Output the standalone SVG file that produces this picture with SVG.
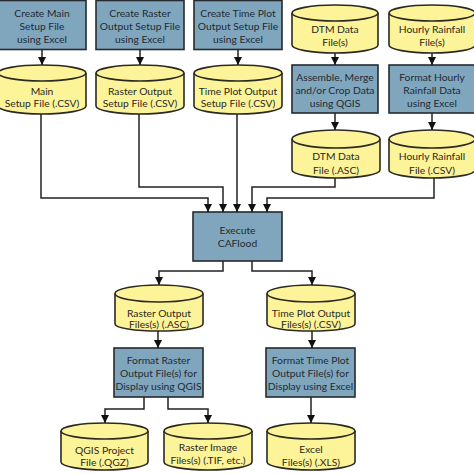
<svg xmlns="http://www.w3.org/2000/svg" width="474" height="474" viewBox="0 0 474 474">
<style>
.box{fill:#7fa6bd;stroke:#262a2e;stroke-width:1.6}
.cyl{fill:#fdf398;stroke:#2a2a22;stroke-width:1.6}
.cyl2{fill:none;stroke:#2a2a22;stroke-width:1.6}
text{font-family:Lato,"Liberation Sans",sans-serif;font-size:10.3px;text-anchor:middle;fill:#1f2a33}
.c text{fill:#2a2a1c}
.con{fill:none;stroke:#222;stroke-width:1.5}
</style>
<defs>
<marker id="ah" viewBox="0 0 10 10" refX="10" refY="5" markerWidth="5.3" markerHeight="5.3" orient="auto" markerUnits="strokeWidth">
<path d="M0,0 L10,5 L0,10 Z" fill="#111"/>
</marker>
</defs>
<rect width="474" height="474" fill="#fff"/>

<g id="create-main"><rect class="box" x="-2" y="0.5" width="88" height="49"/><text x="42" y="17">Create Main</text><text x="42" y="30">Setup File</text><text x="42" y="43">using Excel</text></g>
<g id="create-raster"><rect class="box" x="96" y="0.5" width="88" height="49"/><text x="140" y="17">Create Raster</text><text x="140" y="30">Output Setup File</text><text x="140" y="43">using Excel</text></g>
<g id="create-time"><rect class="box" x="194" y="0.5" width="88" height="49"/><text x="238" y="17">Create Time Plot</text><text x="238" y="30">Output Setup File</text><text x="238" y="43">using Excel</text></g>

<g id="main-setup" class="c"><path class="cyl" d="M-2,73 A44,8 0 0 1 86,73 V106 A44,8 0 0 1 -2,106 Z"/><path class="cyl2" d="M-2,73 A44,8 0 0 0 86,73"/><text x="42" y="94.5">Main</text><text x="42" y="106.5">Setup File (.CSV)</text></g>
<g id="raster-setup" class="c"><path class="cyl" d="M96,73 A44,8 0 0 1 184,73 V106 A44,8 0 0 1 96,106 Z"/><path class="cyl2" d="M96,73 A44,8 0 0 0 184,73"/><text x="140" y="94.5">Raster Output</text><text x="140" y="106.5">Setup File (.CSV)</text></g>
<g id="time-setup" class="c"><path class="cyl" d="M194,73 A44,8 0 0 1 282,73 V106 A44,8 0 0 1 194,106 Z"/><path class="cyl2" d="M194,73 A44,8 0 0 0 282,73"/><text x="238" y="94.5">Time Plot Output</text><text x="238" y="106.5">Setup File (.CSV)</text></g>

<g id="dtm-raw" class="c"><path class="cyl" d="M292,13 A43,8 0 0 1 378,13 V45 A43,8 0 0 1 292,45 Z"/><path class="cyl2" d="M292,13 A43,8 0 0 0 378,13"/><text x="335" y="32.5">DTM Data</text><text x="335" y="45.5">File(s)</text></g>
<g id="rain-raw" class="c"><path class="cyl" d="M389,13 A43,8 0 0 1 475,13 V45 A43,8 0 0 1 389,45 Z"/><path class="cyl2" d="M389,13 A43,8 0 0 0 475,13"/><text x="432" y="32.5">Hourly Rainfall</text><text x="432" y="45.5">File(s)</text></g>

<g id="assemble"><rect class="box" x="292" y="65" width="86" height="48"/><text x="335" y="81">Assemble, Merge</text><text x="335" y="94">and/or Crop Data</text><text x="335" y="107">using QGIS</text></g>
<g id="format-rain"><rect class="box" x="389" y="65" width="86" height="48"/><text x="432" y="81">Format Hourly</text><text x="432" y="94">Rainfall Data</text><text x="432" y="107">using Excel</text></g>

<g id="dtm-asc" class="c"><path class="cyl" d="M292,139 A44,9 0 0 1 380,139 V170 A44,8 0 0 1 292,170 Z"/><path class="cyl2" d="M292,139 A44,9 0 0 0 380,139"/><text x="336" y="159.5">DTM Data</text><text x="336" y="173.5">File (.ASC)</text></g>
<g id="rain-csv" class="c"><path class="cyl" d="M389,139 A43,9 0 0 1 475,139 V170 A43,8 0 0 1 389,170 Z"/><path class="cyl2" d="M389,139 A43,9 0 0 0 475,139"/><text x="432" y="159.5">Hourly Rainfall</text><text x="432" y="173.5">File (.CSV)</text></g>

<g id="execute"><rect class="box" x="193" y="212" width="89" height="49"/><text x="237.5" y="234">Execute</text><text x="237.5" y="247">CAFlood</text></g>

<g id="raster-out" class="c"><path class="cyl" d="M115,293.5 A44,8.5 0 0 1 203,293.5 V324 A44,7 0 0 1 115,324 Z"/><path class="cyl2" d="M115,293.5 A44,8.5 0 0 0 203,293.5"/><text x="159" y="316.5">Raster Output</text><text x="159" y="327.5">Files(s) (.ASC)</text></g>
<g id="time-out" class="c"><path class="cyl" d="M267,293.5 A44,8.5 0 0 1 355,293.5 V324 A44,7 0 0 1 267,324 Z"/><path class="cyl2" d="M267,293.5 A44,8.5 0 0 0 355,293.5"/><text x="311" y="316.5">Time Plot Output</text><text x="311" y="327.5">Files(s) (.CSV)</text></g>

<g id="format-raster"><rect class="box" x="114" y="348" width="89" height="49"/><text x="158.5" y="364">Format Raster</text><text x="158.5" y="377">Output File(s) for</text><text x="158.5" y="390">Display using QGIS</text></g>
<g id="format-time"><rect class="box" x="266" y="348" width="89" height="49"/><text x="310.5" y="364">Format Time Plot</text><text x="310.5" y="377">Output File(s) for</text><text x="310.5" y="390">Display using Excel</text></g>

<g id="qgis-project" class="c"><path class="cyl" d="M61,431 A43.5,8 0 0 1 148,431 V462 A43.5,8 0 0 1 61,462 Z"/><path class="cyl2" d="M61,431 A43.5,8 0 0 0 148,431"/><text x="104.5" y="453.5">QGIS Project</text><text x="104.5" y="466">File (.QGZ)</text></g>
<g id="raster-image" class="c"><path class="cyl" d="M164,431 A44,8 0 0 1 252,431 V462 A44,8 0 0 1 164,462 Z"/><path class="cyl2" d="M164,431 A44,8 0 0 0 252,431"/><text x="208" y="450.5">Raster Image</text><text x="208" y="463.5">Files(s) (.TIF, etc.)</text></g>
<g id="excel-files" class="c"><path class="cyl" d="M267,431 A44,8 0 0 1 355,431 V462 A44,8 0 0 1 267,462 Z"/><path class="cyl2" d="M267,431 A44,8 0 0 0 355,431"/><text x="311" y="453">Excel</text><text x="311" y="465.5">Files(s) (.XLS)</text></g>

<g id="connectors">
<path class="con" marker-end="url(#ah)" d="M42,50 V65"/>
<path class="con" marker-end="url(#ah)" d="M140,50 V65"/>
<path class="con" marker-end="url(#ah)" d="M238,50 V65"/>
<path class="con" marker-end="url(#ah)" d="M335,53 V65"/>
<path class="con" marker-end="url(#ah)" d="M432,53 V65"/>
<path class="con" marker-end="url(#ah)" d="M335,113 V130"/>
<path class="con" marker-end="url(#ah)" d="M432,113 V130"/>
<path class="con" marker-end="url(#ah)" d="M41,114 V198 H208 V212"/>
<path class="con" marker-end="url(#ah)" d="M139,114 V187 H223 V212"/>
<path class="con" marker-end="url(#ah)" d="M237,114 V212"/>
<path class="con" marker-end="url(#ah)" d="M335,178 V187 H252 V212"/>
<path class="con" marker-end="url(#ah)" d="M434,178 V198 H267 V212"/>
<path class="con" marker-end="url(#ah)" d="M223,261 V271 H159 V285"/>
<path class="con" marker-end="url(#ah)" d="M252,261 V271 H312 V285"/>
<path class="con" marker-end="url(#ah)" d="M158,331 V348"/>
<path class="con" marker-end="url(#ah)" d="M312,331 V348"/>
<path class="con" marker-end="url(#ah)" d="M144,397 V409 H105 V423"/>
<path class="con" marker-end="url(#ah)" d="M168,397 V409 H208 V423"/>
<path class="con" marker-end="url(#ah)" d="M311,397 V423"/>
</g>
</svg>
